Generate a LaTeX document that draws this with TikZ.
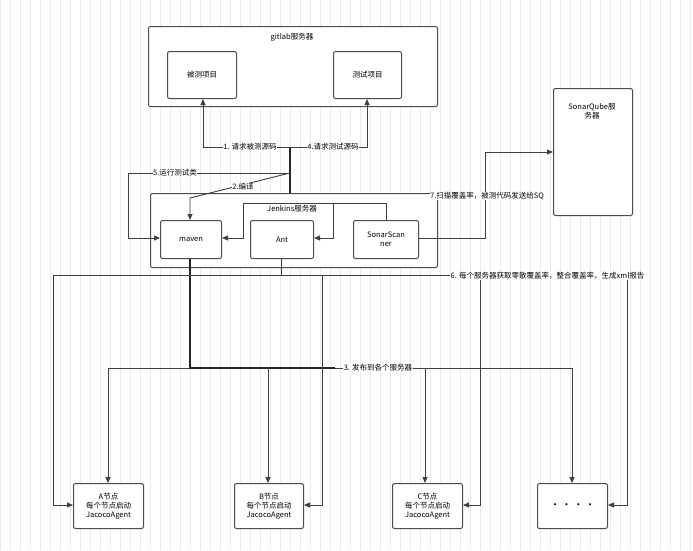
\documentclass[tikz,border=0pt]{standalone}
\usepackage{fontspec}
\setmainfont{Noto Sans CJK SC}
\usetikzlibrary{arrows.meta}
\begin{document}
\begin{tikzpicture}[x=1pt,y=-1pt,font=\fontsize{7.5}{9}\selectfont,
  box/.style={draw=black!70,line width=1pt,rounded corners=2pt,fill=white,align=center,inner sep=1pt},
  ln/.style={draw=black!75,line width=0.9pt},
  thk/.style={draw=black!85,line width=1.5pt},
  ar/.style={ln,-{Triangle[length=6pt,width=5pt]}},
  lab/.style={fill=white,inner sep=0.5pt}]
\useasboundingbox (0,0) rectangle (693,550);
\fill[white] (0,0) rectangle (693,550);
\draw[black!8,line width=0.4pt,step=10] (0,0) grid (693,550);
% boxes
\node[box,minimum width=289,minimum height=80,anchor=north west] (gitlab) at (148,26) {};
\node[anchor=north] at (292,30) {gitlab服务器};
\node[box,minimum width=69,minimum height=47,anchor=north west] (bc) at (167,51) {被测项目};
\node[box,minimum width=68,minimum height=47,anchor=north west] (cs) at (333,51) {测试项目};
\node[box,minimum width=287,minimum height=74,anchor=north west] (jenkins) at (150,193) {};
\node[anchor=north] at (292,202) {Jenkins服务器};
\node[box,minimum width=61,minimum height=38,anchor=north west] (maven) at (160,220) {maven};
\node[box,minimum width=63,minimum height=38,anchor=north west] (ant) at (250,220) {Ant};
\node[box,minimum width=65,minimum height=38,anchor=north west] (ss) at (353,220) {SonarScan\\ner};
\node[box,minimum width=79,minimum height=127,anchor=north west] (sq) at (553,88) {};
\node[anchor=north,align=center] at (592,100) {SonarQube服\\务器};
\node[box,minimum width=70,minimum height=45,anchor=north west] (A) at (73,483) {A节点\\每个节点启动\\JacocoAgent};
\node[box,minimum width=69,minimum height=45,anchor=north west] (B) at (234,483) {B节点\\每个节点启动\\JacocoAgent};
\node[box,minimum width=70,minimum height=45,anchor=north west] (C) at (392,483) {C节点\\每个节点启动\\JacocoAgent};
\node[box,minimum width=70,minimum height=45,anchor=north west] (D) at (537,483) {{\fontsize{10}{10}\selectfont ·\,·\,·\,·}};
% coordinates
\coordinate (j1) at (290,147);
\coordinate (j2) at (290,173);
% 1 & 4
\draw[thk] (j1) -- (jenkins.north -| j1);
\draw[ar] (j1) -- (203,147) -- (bc.south -| 203,0);
\draw[ar] (j1) -- (367,147) -- (cs.south -| 367,0);
\node[lab] at (250,147) {1. 请求被测源码};
\node[lab] at (333,147) {4.请求测试源码};
% 5
\draw[ar] (j2) -- (128,173) -- (128,238) -- (maven.west |- 0,238);
\node[lab] at (175,173) {5.运行测试类};
% 2
\draw[ar] (j2) -- (190,198) -- (maven.north -| 190,0);
\node[lab] at (243,187) {2.编译};
% scanner to ant & maven
\draw[ln] (ss.north -| 386,0) -- (386,203) -- (243,203);
\draw[ar] (333,203) -- (333,238) -- (ant.east |- 0,238);
\draw[ar] (243,203) -- (243,238) -- (maven.east |- 0,238);
% 7
\draw[ar] (ss.east |- 0,238) -- (485,238) -- (485,152) -- (sq.west |- 0,152);
\node[lab] at (487,196) {7.扫描覆盖率，被测代码发送给SQ};
% 3
\draw[ln] (108,368) -- (572,368);
\draw[thk] (maven.south -| 190,0) -- (190,368) -- (335,368);
\draw[ar] (108,368) -- (A.north -| 108,0);
\draw[ar] (268,368) -- (B.north -| 268,0);
\draw[ar] (425,368) -- (C.north -| 425,0);
\draw[ar] (572,368) -- (D.north -| 572,0);
\node[lab] at (378,368) {3. 发布到各个服务器};
% 6
\draw[ln] (ant.south -| 281,0) -- (281,275);
\draw[ln] (53,275) -- (627,275);
\draw[ar] (53,275) -- (53,505) -- (A.west |- 0,505);
\draw[ar] (322,275) -- (322,505) -- (B.east |- 0,505);
\draw[ar] (480,275) -- (480,505) -- (C.east |- 0,505);
\draw[ar] (627,275) -- (627,505) -- (D.east |- 0,505);
\node[lab,anchor=west] at (450,276) {6. 每个服务器获取零散覆盖率，整合覆盖率，生成xml报告};
\end{tikzpicture}
\end{document}
